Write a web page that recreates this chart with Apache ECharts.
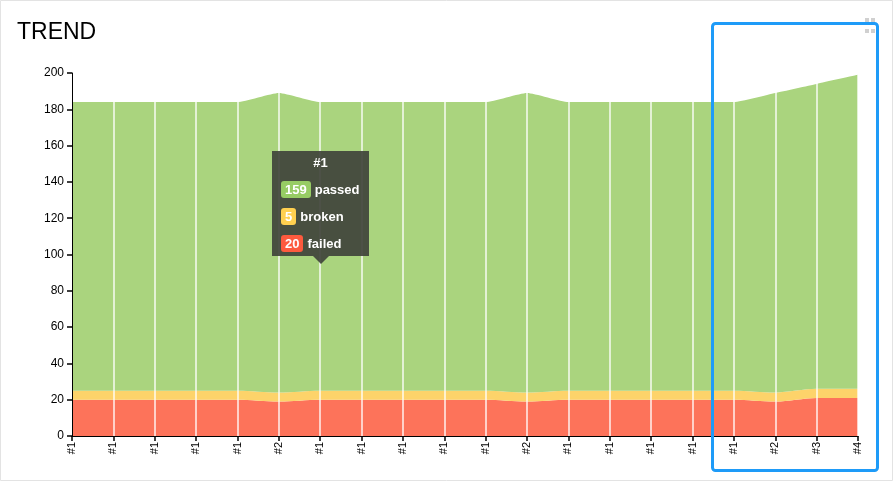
<!DOCTYPE html>
<html>
<head>
<meta charset="utf-8">
<script src="https://cdn.jsdelivr.net/npm/echarts@6/dist/echarts.min.js"></script>
<style>
html,body{margin:0;padding:0;background:#fff;}
#chart{width:896px;height:482px;}
</style>
</head>
<body>
<div id="chart"></div>
<script>
var categories = ['#1','#1','#1','#1','#1','#2','#1','#1','#1','#1','#1','#2','#1','#1','#1','#1','#1','#2','#3','#4'];
var failed  = [20,20,20,20,20,19,20,20,20,20,20,19,20,20,20,20,20,19,21,21];
var broken  = [5,5,5,5,5,5,5,5,5,5,5,5,5,5,5,5,5,5,5,5];
var passed  = [159,159,159,159,159,165,159,159,159,159,159,165,159,159,159,159,159,165,168,173];
var yTicks = {min: 0, max: 200, interval: 20};
var tipIndex = 6;

var badgeColors = {passed:'#97cc64', broken:'#ffd050', failed:'#fd5a3e'};

var chart = echarts.init(document.getElementById('chart'), null, {renderer:'canvas'});

function badge(val, name, color){
  return '<div style="height:17px;line-height:17px;margin-top:10px;white-space:nowrap;">' +
    '<span style="display:inline-block;background:' + color + ';border-radius:3px;padding:0 4px;height:17px;line-height:17px;">' + val + '</span>' +
    '<span style="margin-left:4px;">' + name + '</span></div>';
}

function areaSeries(name, data, color, smooth) {
  return {
    name: name, type: 'line', stack: 'total', data: data, smooth: smooth,
    symbol: 'none', showSymbol: false,
    lineStyle: {width: 0, opacity: 0},
    areaStyle: {color: color, opacity: 1},
    itemStyle: {color: color},
    emphasis: {disabled: true},
    select: {disabled: true}
  };
}

var option = {
  animation: false,
  title: {
    text: 'TREND', left: 12, top: 16,
    textStyle: {fontFamily: 'Liberation Sans, Arial, sans-serif', fontSize: 23, fontWeight: 'normal', color: '#000'}
  },
  grid: {left: 72, right: 38, top: 73, bottom: 46},
  tooltip: {
    trigger: 'axis',
    triggerOn: 'none',
    alwaysShowContent: true,
    axisPointer: {type: 'none'},
    backgroundColor: 'rgba(64,67,59,0.92)',
    borderWidth: 0,
    padding: [4, 9, 4, 9],
    extraCssText: 'border-radius:0;box-shadow:none;overflow:visible;',
    textStyle: {color: '#fff', fontFamily: 'Liberation Sans, Arial, sans-serif', fontSize: 13, fontWeight: 'bold'},
    position: function (point, params, dom, rect, size) {
      return [point[0] - size.contentSize[0] / 2, point[1] - size.contentSize[1] - 9];
    },
    formatter: function (params) {
      var byName = {};
      params.forEach(function (p) { byName[p.seriesName] = p.value; });
      return '<div style="position:relative;font-weight:bold;min-width:79px;">' +
        '<div style="text-align:center;height:16px;line-height:16px;">' + params[0].axisValue + '</div>' +
        badge(byName.passed, 'passed', badgeColors.passed) +
        badge(byName.broken, 'broken', badgeColors.broken) +
        badge(byName.failed, 'failed', badgeColors.failed) +
        '<div style="position:absolute;left:50%;margin-left:-8px;bottom:-12px;width:0;height:0;border-left:8px solid transparent;border-right:8px solid transparent;border-top:8px solid rgba(64,67,59,0.92);"></div>' +
        '</div>';
    }
  },
  xAxis: {
    type: 'category',
    data: categories,
    boundaryGap: false,
    z: 5,
    axisLine: {lineStyle: {color: '#000', width: 1}},
    axisTick: {show: true, length: 5, lineStyle: {color: '#000', width: 1.5}},
    axisLabel: {rotate: 90, color: '#000', fontSize: 11, margin: 6, interval: 0, fontFamily: 'Liberation Sans, Arial, sans-serif'},
    splitLine: {show: true, lineStyle: {color: 'rgba(255,255,255,0.9)', width: 1.5}}
  },
  yAxis: {
    type: 'value',
    min: yTicks.min, max: yTicks.max, interval: yTicks.interval,
    z: 6,
    axisLine: {show: true, lineStyle: {color: '#000', width: 1}},
    axisTick: {show: true, length: 5, lineStyle: {color: '#000', width: 1.5}},
    axisLabel: {color: '#000', fontSize: 12, margin: 8, fontFamily: 'Liberation Sans, Arial, sans-serif'},
    splitLine: {show: false}
  },
  series: [
    areaSeries('failed', failed, '#fd735a', 0.3),
    areaSeries('broken', broken, '#fdd36a', 0.3),
    areaSeries('passed', passed, '#aad47e', 0.15)
  ],
  graphic: [
    {type: 'rect', z: 0, shape: {x: 0.5, y: 0.5, width: 892, height: 480}, style: {fill: 'none', stroke: '#e3e3e3', lineWidth: 1}},
    {type: 'rect', z: 50, shape: {x: 865, y: 18, width: 4, height: 4}, style: {fill: '#d0d0d0'}},
    {type: 'rect', z: 50, shape: {x: 871, y: 18, width: 4, height: 4}, style: {fill: '#d0d0d0'}},
    {type: 'rect', z: 50, shape: {x: 865, y: 29, width: 4, height: 4}, style: {fill: '#d0d0d0'}},
    {type: 'rect', z: 50, shape: {x: 871, y: 29, width: 4, height: 4}, style: {fill: '#d0d0d0'}},
    {type: 'rect', z: 60, shape: {x: 712.5, y: 23.5, width: 165, height: 447, r: 3}, style: {fill: 'none', stroke: '#1e9bf8', lineWidth: 3}}
  ]
};
chart.setOption(option);
var pt = chart.convertToPixel({gridIndex: 0}, [tipIndex, 94]);
chart.dispatchAction({type: 'showTip', x: pt[0], y: pt[1]});
</script>
</body>
</html>
